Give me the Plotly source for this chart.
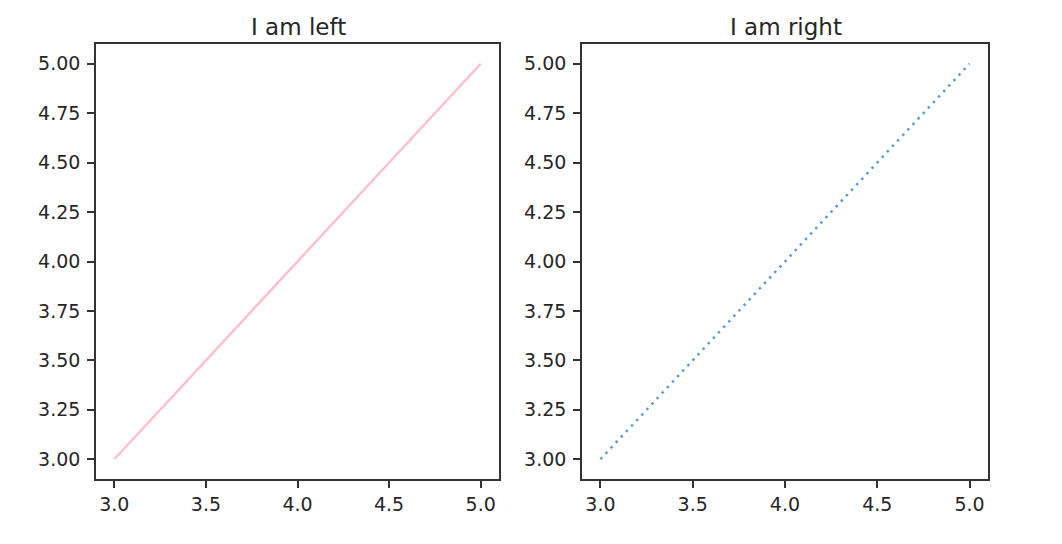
import plotly.graph_objects as go
from plotly.subplots import make_subplots

x_vals = [3, 5]
y_vals = [3, 5]
titles = ["I am left", "I am right"]
tick_vals = [3.0, 3.25, 3.5, 3.75, 4.0, 4.25, 4.5, 4.75, 5.0]
tick_text_y = ["3.00", "3.25", "3.50", "3.75", "4.00", "4.25", "4.50", "4.75", "5.00"]
tick_x = [3.0, 3.5, 4.0, 4.5, 5.0]
tick_text_x = ["3.0", "3.5", "4.0", "4.5", "5.0"]

fig = make_subplots(rows=1, cols=2, subplot_titles=titles, horizontal_spacing=0.093)

fig.add_trace(go.Scatter(x=x_vals, y=y_vals, mode="lines",
                         line=dict(color="#ffc0cb", width=2.5)), row=1, col=1)
fig.add_trace(go.Scatter(x=x_vals, y=y_vals, mode="lines",
                         line=dict(color="#5b9bd5", width=2.5, dash="2.5px,5px")), row=1, col=2)

axis_style = dict(showline=True, linecolor="#333333", linewidth=1.6, mirror=True,
                  ticks="outside", ticklen=7, tickwidth=1.6, tickcolor="#333333",
                  showgrid=False, zeroline=False, range=[2.9, 5.1],
                  tickfont=dict(family="DejaVu Sans", size=19, color="#262626"))

for c in (1, 2):
    fig.update_xaxes(tickvals=tick_x, ticktext=tick_text_x, row=1, col=c, **axis_style)
    fig.update_yaxes(tickvals=tick_vals, ticktext=tick_text_y, ticklabelstandoff=3,
                     row=1, col=c, **axis_style)

fig.update_xaxes(domain=[0, 0.4518], row=1, col=1)
fig.update_xaxes(domain=[0.5448, 1], row=1, col=2)

for ann in fig.layout.annotations:
    ann.font = dict(family="DejaVu Sans", size=23, color="#262626")
    ann.yshift = 2

# the page has a small body margin, so size the figure a bit smaller
fig.update_layout(width=1055, height=537, showlegend=False,
                  margin=dict(l=88, r=75, t=36, b=66),
                  plot_bgcolor="white", paper_bgcolor="white")

fig.write_html("out.html")
